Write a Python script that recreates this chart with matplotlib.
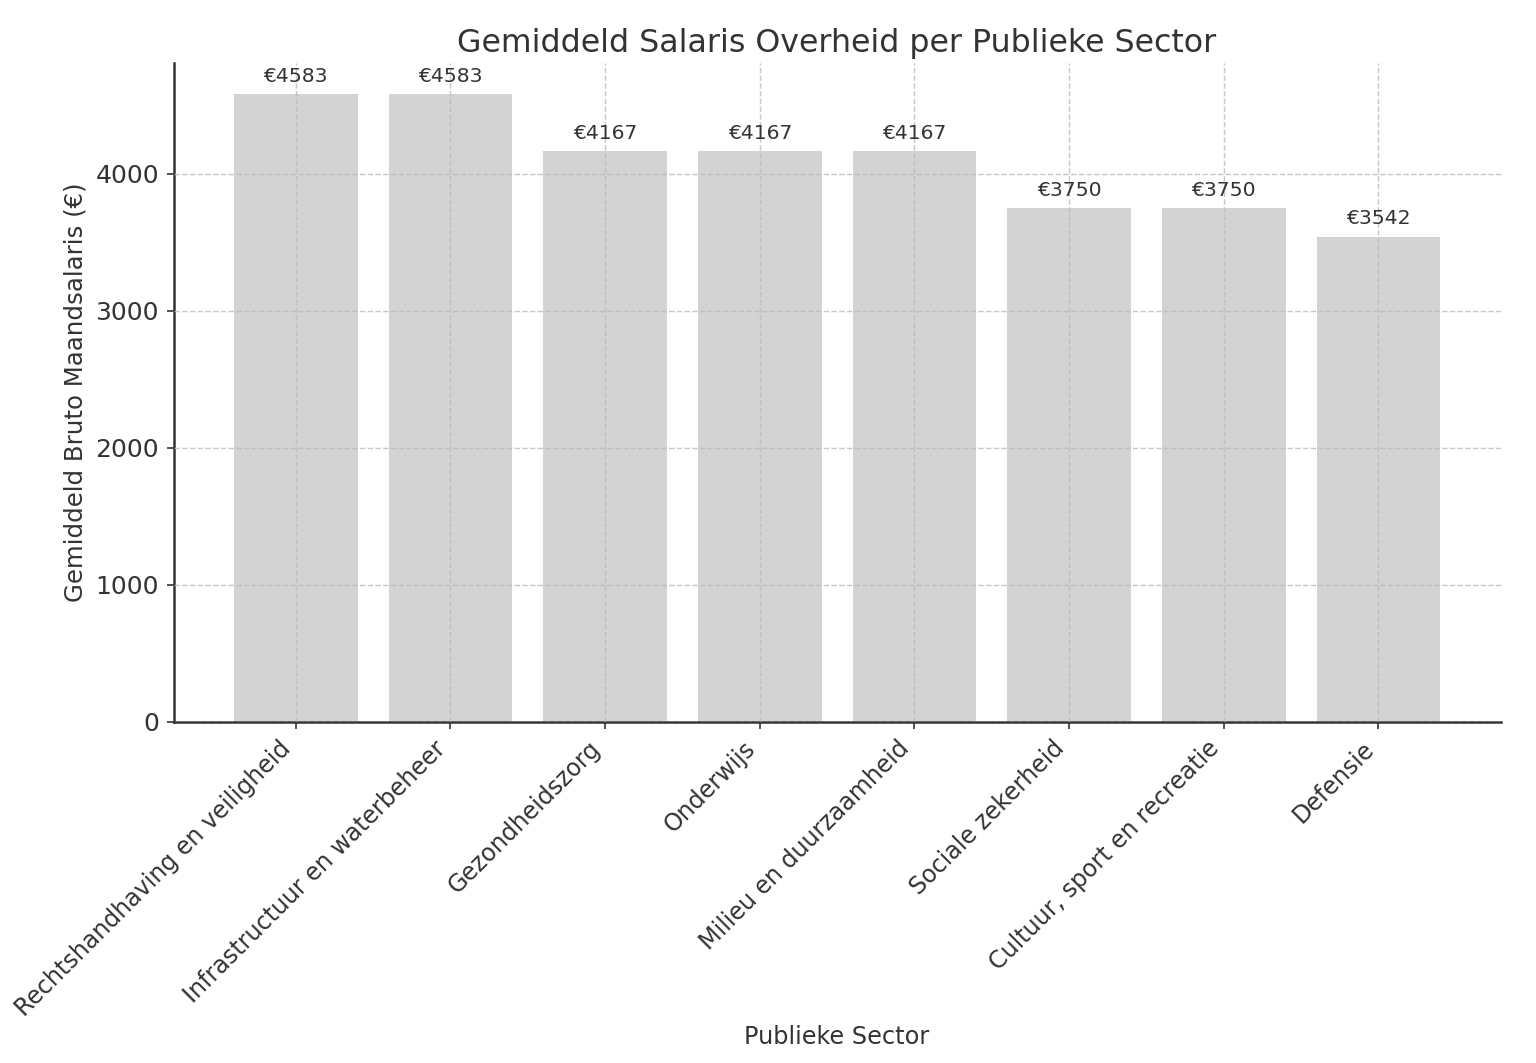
import matplotlib
matplotlib.use("Agg")
import matplotlib.pyplot as plt

sectors = [
    "Rechtshandhaving en veiligheid",
    "Infrastructuur en waterbeheer",
    "Gezondheidszorg",
    "Onderwijs",
    "Milieu en duurzaamheid",
    "Sociale zekerheid",
    "Cultuur, sport en recreatie",
    "Defensie",
]
salaries = [4583, 4583, 4167, 4167, 4167, 3750, 3750, 3542]

text_color = "#333333"

fig = plt.figure(figsize=(10.24, 7.087), dpi=150)
ax = fig.add_subplot(111)
fig.subplots_adjust(left=0.113, right=0.977, top=0.941, bottom=0.321)

bars = ax.bar(sectors, salaries, color="lightgrey", width=0.8, zorder=1)
for b, v in zip(bars, salaries):
    ax.annotate(f"€{v}", (b.get_x() + b.get_width() / 2, v),
                xytext=(0, 4), textcoords="offset points",
                ha="center", va="bottom", fontsize=9.8, color=text_color)

ax.grid(True, linestyle="--", color="#bbbbbb", linewidth=0.7, alpha=0.8, zorder=2)
ax.set_axisbelow(False)
for s in ["top", "right"]:
    ax.spines[s].set_visible(False)
for s in ["left", "bottom"]:
    ax.spines[s].set_color(text_color)
    ax.spines[s].set_linewidth(1.2)

ax.set_title("Gemiddeld Salaris Overheid per Publieke Sector", fontsize=15.2,
             color=text_color, pad=5)
ax.set_xlabel("Publieke Sector", fontsize=11.5, color=text_color, labelpad=2)
ax.set_ylabel("Gemiddeld Bruto Maandsalaris (€)", fontsize=11.7, color=text_color)
ax.tick_params(axis="y", labelsize=12, colors=text_color)
ax.tick_params(axis="x", labelsize=11.4, colors=text_color)
plt.setp(ax.get_xticklabels(), rotation=45, ha="right")

fig.savefig("out.png", dpi=150)
